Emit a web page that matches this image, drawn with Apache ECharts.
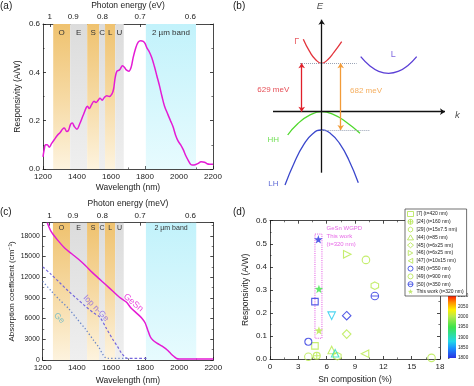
<!DOCTYPE html>
<html><head><meta charset="utf-8">
<script src="https://cdn.jsdelivr.net/npm/echarts@6/dist/echarts.min.js"></script>
<style>html,body{margin:0;padding:0;background:#fff}#c{width:474px;height:386px}</style>
</head><body><div id="c"></div>
<script>
const FONT = '"Liberation Sans", Arial, Helvetica, sans-serif';

// ---------- (a) responsivity spectrum ----------
const respWavelength = [1200,1207,1215,1225,1237,1250,1265,1285,1300,1315,1325,1340,1350,1362,1372,1385,1400,1415,1435,1455,1462,1472,1485,1500,1512,1525,1535,1548,1560,1575,1590,1605,1615,1625,1635,1650,1668,1680,1690,1705,1718,1730,1745,1760,1775,1790,1800,1812,1825,1840,1855,1870,1885,1900,1915,1935,1950,1965,1980,1995,2010,2025,2040,2055,2068,2080,2095,2110,2130,2150,2165,2180,2200];
const responsivity  = [0.05,0.08,0.10,0.10,0.09,0.105,0.12,0.14,0.15,0.165,0.17,0.155,0.16,0.185,0.19,0.175,0.165,0.185,0.22,0.255,0.26,0.25,0.265,0.28,0.275,0.285,0.293,0.285,0.295,0.303,0.30,0.31,0.33,0.38,0.405,0.41,0.427,0.42,0.41,0.405,0.42,0.46,0.50,0.525,0.531,0.528,0.52,0.50,0.485,0.46,0.425,0.385,0.345,0.30,0.26,0.225,0.20,0.175,0.14,0.115,0.10,0.08,0.055,0.035,0.02,0.017,0.018,0.022,0.03,0.028,0.022,0.02,0.02];

// telecom bands (nm)
const bandNames = ['O','E','S','C','L','U','2 µm band'];
const bandStart = [1260,1360,1460,1530,1565,1625,1805];
const bandEnd   = [1360,1460,1530,1565,1625,1675,2100];

// photon energy tick labels (eV)
const energyTicks = [1, 0.9, 0.8, 0.7, 0.6];

// ---------- (c) absorption coefficient ----------
const gesnWl  = [1227,1250,1290,1330,1370,1410,1450,1490,1530,1570,1610,1650,1690,1719,1750,1780,1800,1815,1830,1845,1870,1900,1930,1950,1970,1985,2000,2100,2200];
const gesnAbs = [19900,18600,17300,16200,15400,14600,13700,12700,11800,10900,10000,9100,8400,7500,6800,6100,5400,4400,3400,2900,2450,2000,1450,950,500,220,150,150,150];
const iopWl   = [1200,1250,1300,1350,1400,1450,1500,1535,1575,1613,1640,1662,1696,1810];
const iopAbs  = [13500,12400,11200,10000,8900,7800,6800,6200,4500,2900,1900,1000,250,250];
const geWl    = [1200,1250,1300,1350,1400,1450,1500,1530,1550,1565,1580,1700];
const geAbs   = [11400,10000,8700,7500,6000,4500,2800,1800,900,400,250,250];

// ---------- (b) band diagram (schematic units: k, E) ----------
const gammaValley = [[-18.4,72.4],[-12,60],[-6,52],[0,48.4],[6,52],[12,59],[20,70]];
const lValley     = [[39,55],[48,46],[57,40.4],[67,38.4],[77,40.5],[86,46],[95,55]];
const hhBand      = [[-34,-23.3],[-24,-12],[-12,-3.5],[0,0],[12,-3],[24,-10],[38.3,-21.6]];
const lhBand      = [[-36.7,-73.3],[-27,-50],[-18,-33],[-9,-22],[0,-18.3],[9,-22],[18,-32],[27,-48],[36.6,-71]];
const gammaLevel = 48.4, lhLevel = -18.3;

// ---------- (d) responsivity vs Sn composition: [Sn %, R (A/W), wavelength nm] ----------
const refNames = ['[7] (t=420 nm)','[24] (t=160 nm)','[29] (t=15x7.5 nm)','[44] (t=85 nm)','[45] (t=6x25 nm)','[46] (t=6x25 nm)','[47] (t=10x15 nm)','[48] (t=550 nm)','[49] (t=900 nm)','[50] (t=350 nm)','This work (t=320 nm)'];
const ref7  = [[4.76,0.249,1800],[4.76,0.057,2000]];
const ref24 = [[4.95,0.014,2000]];
const ref29 = [[7.13,0.012,2000],[11.1,0.318,2000]];
const ref44 = [[6.53,0.039,2000],[6.9,0.025,1900]];
const ref44b = [[6.53,0.188,1875]];
const ref45 = [[8.12,0.188,1800],[8.12,0.108,2000]];
const ref46 = [[8.18,0.454,2000]];
const ref47 = [[10.06,0.023,2000]];
const ref48 = [[4.06,0.075,1800]];
const ref49 = [[10.16,0.43,2000],[4.06,0.01,2000],[17.1,0.005,2000]];
const ref50 = [[11.1,0.273,1800]];
const thisWork = [[5.12,0.519,1800],[5.18,0.304,1950],[5.18,0.124,2000]];
const cbMin = 1800, cbMax = 2100;

// ================= build =================
const ink = '#1a1a1a';
const jetStops = [[0,'#2b33e0'],[0.15,'#1a8cff'],[0.27,'#22d8e8'],[0.5,'#3ee34a'],[0.67,'#b8ea4a'],[0.78,'#ffee00'],[0.9,'#ff8c00'],[1,'#ff1a00']];
function hex2rgb(h){return [1,3,5].map(i=>parseInt(h.substr(i,2),16));}
function jet(wl){
  const t = Math.max(0,Math.min(1,(wl-cbMin)/(cbMax-cbMin)));
  for (let i=1;i<jetStops.length;i++){
    if (t<=jetStops[i][0]){
      const a=jetStops[i-1], b=jetStops[i], f=(t-a[0])/(b[0]-a[0]);
      const ca=hex2rgb(a[1]), cb=hex2rgb(b[1]);
      return 'rgb('+ca.map((v,k)=>Math.round(v+(cb[k]-v)*f)).join(',')+')';
    }
  }
  return jetStops[jetStops.length-1][1];
}
const zip = (a,b)=>a.map((v,i)=>[v,b[i]]);
const energyPos = energyTicks.map(e=>1239.84/e);

const grad = (stops, rev) => ({type:'linear', x:0, y:rev?1:0, x2:0, y2:rev?0:1,
  colorStops: stops.map(s=>({offset:s[0], color:s[1]}))});
const tone = {
  orange: grad([[0,'#efc26f'],[0.5,'#f6d9a2'],[1,'#fdf3de']]),
  gray:   grad([[0,'#dcdcdc'],[1,'#efefef']]),
  cyan:   grad([[0,'#c2f2fb'],[1,'#e7fbfe']])
};
const bandTone = {'O':'orange','E':'gray','S':'orange','C':'gray','L':'orange','U':'gray','2 µm band':'cyan'};
function bandArea(fs, dist){
  return {silent:true,
    data: bandNames.map((n,i)=>[{name:n, xAxis:bandStart[i], itemStyle:{color:tone[bandTone[n]]},
      label:{show:true, position:'insideTop', distance:dist, fontSize:fs, color:'#333', fontFamily:FONT}}, {xAxis:bandEnd[i]}])};
}

const plain = v => String(v);
const axLine = {show:true, onZero:false, lineStyle:{color:ink, width:0.8}};
const tickIn = {show:true, inside:true, length:3, lineStyle:{color:ink, width:0.8}};
const minor = n => ({show:true, splitNumber:n, length:1.6, lineStyle:{color:ink, width:0.6}});
const lab = extra => Object.assign({color:ink, fontSize:8, fontFamily:FONT, margin:3, formatter:plain}, extra||{});
const nameStyle = {color:ink, fontSize:8.5, fontFamily:FONT};
const noSplit = {show:false};

function wlBottom(grid, gap){
  return {gridIndex:grid, type:'value', min:1200, max:2200, interval:200, axisLine:axLine, axisTick:tickIn,
    minorTick:minor(2), splitLine:noSplit, axisLabel:lab({margin:4}), name:'Wavelength (nm)', nameLocation:'middle', nameGap:gap, nameTextStyle:nameStyle};
}
function wlTop(grid, name, gap){
  return {gridIndex:grid, type:'value', position:'top', min:1200, max:2200, axisLine:axLine,
    axisTick:Object.assign({}, tickIn, {customValues:energyPos}),
    axisLabel:lab({customValues:energyPos, formatter:v=>{const e=1239.84/v; return String(Math.round(e*10)/10);} , margin:3}),
    splitLine:noSplit, name:name, nameLocation:'middle', nameGap:gap, nameTextStyle:nameStyle};
}
function rightAxis(grid, min, max, interval, n){
  return {gridIndex:grid, type:'value', position:'right', min, max, interval, axisLine:axLine, axisTick:tickIn,
    minorTick:minor(n), axisLabel:{show:false}, splitLine:noSplit};
}

const xAxis = [
  wlBottom(0, 14),
  wlTop(0, 'Photon energy (eV)', 13.5),
  {gridIndex:1, type:'value', min:-50, max:140, show:false},
  wlBottom(2, 16),
  wlTop(2, 'Photon energy (meV)', 15),
  {gridIndex:3, type:'value', min:0, max:18, interval:3, axisLine:axLine, axisTick:tickIn, minorTick:minor(2), splitLine:noSplit,
    axisLabel:lab({margin:4}), name:'Sn composition (%)', nameLocation:'middle', nameGap:16.5, nameTextStyle:nameStyle},
  {gridIndex:3, type:'value', position:'top', min:0, max:18, interval:3, axisLine:axLine, axisTick:tickIn, minorTick:minor(2), axisLabel:{show:false}, splitLine:noSplit},
  {gridIndex:4, type:'value', min:0, max:1, show:false}
];
const yAxis = [
  {gridIndex:0, type:'value', min:0, max:0.6, interval:0.2, axisLine:axLine, axisTick:tickIn, minorTick:minor(2), splitLine:noSplit,
    axisLabel:lab({formatter:v=>v.toFixed(1)}), name:'Responsivity (A/W)', nameLocation:'middle', nameGap:21, nameTextStyle:nameStyle},
  rightAxis(0, 0, 0.6, 0.2, 2),
  {gridIndex:1, type:'value', min:-75, max:107, show:false},
  {gridIndex:2, type:'value', min:0, max:19900, interval:3000, axisLine:axLine, axisTick:tickIn, minorTick:minor(2), splitLine:noSplit,
    axisLabel:lab({fontSize:6.8, formatter:v=>(v%3000===0?String(v):'')}), name:'Absorption coefficient (cm⁻¹)', nameLocation:'middle', nameGap:27, nameTextStyle:Object.assign({}, nameStyle, {fontSize:8})},
  rightAxis(2, 0, 19900, 3000, 2),
  {gridIndex:3, type:'value', min:0, max:0.6, interval:0.1, axisLine:axLine, axisTick:tickIn, minorTick:minor(2), splitLine:noSplit,
    axisLabel:lab({formatter:v=>v.toFixed(1)}), name:'Responsivity (A/W)', nameLocation:'middle', nameGap:20, nameTextStyle:nameStyle},
  rightAxis(3, 0, 0.6, 0.1, 2),
  {gridIndex:4, type:'value', position:'right', min:cbMin, max:cbMax, interval:50, axisLine:{show:true, lineStyle:{color:'#888', width:0.5}},
    axisTick:{show:true, length:1.5, lineStyle:{color:ink, width:0.6}}, splitLine:noSplit,
    axisLabel:{color:ink, fontSize:4.6, fontFamily:FONT, margin:2, formatter:plain}},
  {gridIndex:4, type:'value', position:'left', min:cbMin, max:cbMax, axisLine:{show:false}, axisTick:{show:false}, axisLabel:{show:false}, splitLine:noSplit,
    name:'Wavelength (nm)', nameLocation:'middle', nameRotate:90, nameGap:-6.5, nameTextStyle:{color:'#2a2a6a', fontSize:5, fontFamily:FONT}}
];

const labelSeries = (xi, yi, items) => ({type:'scatter', xAxisIndex:xi, yAxisIndex:yi, symbolSize:1, silent:true, z:6,
  itemStyle:{color:'rgba(0,0,0,0)'}, data: items.map(it=>({name:it[0], value:[it[1],it[2]],
    label:Object.assign({show:true, position:'inside', formatter:'{b}', fontFamily:FONT, fontSize:8, color:ink}, it[3]||{})}))});

const series = [];
// (a)
series.push({type:'line', xAxisIndex:0, yAxisIndex:0, data:[], z:1, markArea:bandArea(8, 5)});
series.push({type:'line', xAxisIndex:0, yAxisIndex:0, data:zip(respWavelength, responsivity), smooth:0.35, showSymbol:false, z:3,
  lineStyle:{color:'#e41bd4', width:1.5}});

// (b)
const bLine = (pts, color) => ({type:'line', xAxisIndex:2, yAxisIndex:2, data:pts, smooth:0.5, showSymbol:false, lineStyle:{color, width:1.3}, z:3});
series.push(bLine(gammaValley, '#e3343c'));
series.push(bLine(lValley, '#5b3fd6'));
series.push(bLine(hhBand, '#4fd82c'));
series.push(bLine(lhBand, '#3a47cc'));
series.push({type:'line', xAxisIndex:2, yAxisIndex:2, data:[], z:4,
  markLine:{silent:true, symbolSize:5, label:{show:false},
    data:[
      [{coord:[0,-61], symbol:'none', lineStyle:{color:'#111', width:1.3, type:'solid'}},{coord:[0,92], symbol:'arrow'}],
      [{coord:[-48.7,0], symbol:'none', lineStyle:{color:'#111', width:1.3, type:'solid'}},{coord:[123.3,0], symbol:'arrow'}],
      [{coord:[-21.7,gammaLevel], symbol:'none', lineStyle:{color:'#9aa3b5', width:1, type:'dotted'}},{coord:[35,gammaLevel], symbol:'none'}],
      [{coord:[0,lhLevel], symbol:'none', lineStyle:{color:'#9aa3b5', width:1, type:'dotted'}},{coord:[48.3,lhLevel], symbol:'none'}],
      [{coord:[-20,gammaLevel], symbol:'arrow', lineStyle:{color:'#e0202a', width:1.3, type:'solid'}},{coord:[-20,0], symbol:'arrow'}],
      [{coord:[19,gammaLevel], symbol:'arrow', lineStyle:{color:'#f29b38', width:1.3, type:'solid'}},{coord:[19,lhLevel], symbol:'arrow'}]
    ]}});
series.push(labelSeries(2, 2, [
  ['E', -1.7, 105, {fontStyle:'italic', fontSize:9.5}],
  ['k', 135.6, -3.3, {fontStyle:'italic', fontSize:9.5}],
  ['Γ', -25, 70, {color:'#e3343c', fontSize:9}],
  ['L', 71.6, 56.7, {color:'#5b3fd6', fontSize:9}],
  ['HH', -48.4, -28.3, {color:'#4fd82c', fontSize:8}],
  ['LH', -48.4, -72.3, {color:'#3a47cc', fontSize:8}],
  ['629 meV', -48.4, 21.7, {color:'#e0202a', fontSize:8}],
  ['682 meV', 44.3, 21, {color:'#f29b38', fontSize:8}]
]));

// (c)
series.push({type:'line', xAxisIndex:3, yAxisIndex:3, data:[], z:1, markArea:bandArea(7, 2)});
series.push({type:'line', xAxisIndex:3, yAxisIndex:3, data:zip(geWl, geAbs), smooth:0.3, showSymbol:false, z:3,
  lineStyle:{color:'#6a86c8', width:1.3, type:[1.3,2.2]}});
series.push({type:'line', xAxisIndex:3, yAxisIndex:3, data:zip(iopWl, iopAbs), smooth:0.3, showSymbol:false, z:3,
  lineStyle:{color:'#7466dc', width:1.2, type:[2.6,2]}});
series.push({type:'line', xAxisIndex:3, yAxisIndex:3, data:zip(gesnWl, gesnAbs), smooth:0.3, showSymbol:false, z:4,
  lineStyle:{color:'#e41bd4', width:1.5}});
series.push(labelSeries(3, 3, [
  ['GeSn', 1731, 8300, {color:'#e41bd4', rotate:-40, fontSize:9}],
  ['Iop n-Ge', 1513, 7500, {color:'#8a62e2', rotate:-46, fontSize:8.5}],
  ['Ge', 1297, 6050, {color:'#5fb6c8', rotate:-46, fontSize:8.5}]
]));

// (d)
const P = {
  circlePlus:'path://M0,-10A10,10,0,1,1,0,10A10,10,0,1,1,0,-10ZM-10,0L10,0M0,-10L0,10',
  circleLine:'path://M0,-10A10,10,0,1,1,0,10A10,10,0,1,1,0,-10ZM-10,0L10,0',
  hexagon:'path://M0,-10L8.66,-5L8.66,5L0,10L-8.66,5L-8.66,-5Z',
  triRight:'path://M-8,-10L10,0L-8,10Z',
  triLeft:'path://M8,-10L-10,0L8,10Z',
  triDown:'path://M-10,-8L10,-8L0,10Z',
  star:'path://M0,-10L2.35,-3.24L9.51,-3.09L3.8,1.24L5.88,8.09L0,4L-5.88,8.09L-3.8,1.24L-9.51,-3.09L-2.35,-3.24Z'
};
const lime = '#b2e34c', blue = '#2b3be0';
const refDefs = [
  [refNames[0], ref7, 'rect', lime, 6.5],
  [refNames[1], ref24, P.circlePlus, lime, 7],
  [refNames[2], ref29, P.hexagon, lime, 7.5],
  [refNames[3], ref44, 'triangle', lime, 7.5],
  [refNames[4], ref45, 'diamond', lime, 8.5],
  [refNames[5], ref46, P.triRight, lime, 7.5],
  [refNames[6], ref47, P.triLeft, lime, 7.5],
  [refNames[7], ref48, 'circle', blue, 7],
  [refNames[8], ref49, 'circle', lime, 7.5],
  [refNames[9], ref50, P.circleLine, blue, 7.5]
];
refDefs.forEach(d=>{
  series.push({type:'scatter', name:d[0], xAxisIndex:5, yAxisIndex:5, symbol:d[2], symbolSize:d[4], z:5,
    itemStyle:{color:'rgba(0,0,0,0)', borderColor:d[3], borderWidth:1.1},
    data:d[1].map(p=>({value:[p[0],p[1]], itemStyle:{borderColor:jet(p[2])}}))});
});
series.push({type:'scatter', name:'[44b]', xAxisIndex:5, yAxisIndex:5, symbol:P.triDown, symbolSize:7.5, z:5,
  itemStyle:{color:'rgba(0,0,0,0)', borderColor:lime, borderWidth:1.1},
  data:ref44b.map(p=>({value:[p[0],p[1]], itemStyle:{borderColor:jet(p[2])}}))});
series.push({type:'scatter', name:refNames[10], xAxisIndex:5, yAxisIndex:5, symbol:P.star, symbolSize:8.5, z:6,
  itemStyle:{color:lime, borderWidth:0},
  data:thisWork.map(p=>({value:[p[0],p[1]], itemStyle:{color:jet(p[2])}}))});
series.push({type:'line', xAxisIndex:5, yAxisIndex:5, data:[], z:4,
  markArea:{silent:true, itemStyle:{color:'rgba(0,0,0,0)', borderColor:'#e040e0', borderWidth:0.9, borderType:[1,1.2]},
    data:[[{coord:[4.76,0.542]},{coord:[5.5,0.09]}]]}});
series.push(labelSeries(5, 5, [
  ['GeSn WGPD\nThis work\n(t=320 nm)', 5.93, 0.533, {color:'#e040e0', fontSize:6, lineHeight:8, position:'right', distance:0, align:'left'}]
]));

// colorbar
series.push({type:'line', xAxisIndex:7, yAxisIndex:7, data:[], z:2,
  markArea:{silent:true, itemStyle:{color:grad(jetStops, true)}, data:[[{coord:[0,cbMin]},{coord:[1,cbMax]}]]}});

const legendData = refDefs.map(d=>({name:d[0], itemStyle:{color:'rgba(0,0,0,0)', borderColor:d[3], borderWidth:1}}))
  .concat([{name:refNames[10], itemStyle:{color:lime, borderWidth:0}}]);

const option = {
  animation:false,
  backgroundColor:'#fff',
  textStyle:{fontFamily:FONT},
  grid:[
    {left:43, top:24, width:170, height:145},
    {left:271.7, top:4.7, width:190, height:182},
    {left:42.7, top:222.7, width:170.6, height:137.3},
    {left:270, top:220.7, width:170, height:138.3},
    {left:448, top:296, width:8, height:62}
  ],
  xAxis, yAxis, series,
  legend:{data:legendData, orient:'vertical', left:405, top:209, selectedMode:false, backgroundColor:'#fff',
    borderColor:'#333', borderWidth:0.7, padding:[2,3,2,2], itemWidth:6, itemHeight:5, itemGap:1.8, z:10,
    textStyle:{fontSize:5, lineHeight:5, color:ink, fontFamily:FONT, padding:[0,0,0,-2]}},
  graphic:[
    {type:'text', left:0, top:1, style:{text:'(a)', fontSize:10, fontFamily:FONT, fill:ink}},
    {type:'text', left:233, top:1, style:{text:'(b)', fontSize:10, fontFamily:FONT, fill:ink}},
    {type:'text', left:0, top:207, style:{text:'(c)', fontSize:10, fontFamily:FONT, fill:ink}},
    {type:'text', left:233, top:207, style:{text:'(d)', fontSize:10, fontFamily:FONT, fill:ink}}
  ]
};
const chart = echarts.init(document.getElementById('c'), null, {renderer:'canvas', width:474, height:386});
chart.setOption(option);
</script></body></html>
